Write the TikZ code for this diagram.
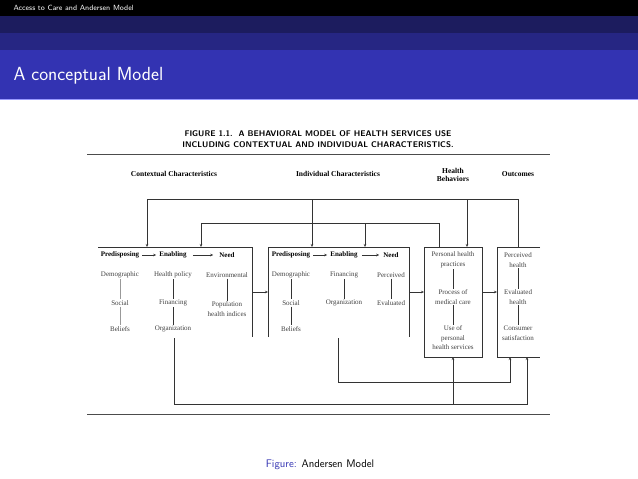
\documentclass[tikz,border=0pt]{standalone}
\usepackage{fontspec}
\setmainfont{Liberation Serif}
\usepackage{tikz}
\usetikzlibrary{arrows.meta,positioning,calc}
\definecolor{bmblack}{HTML}{000000}
\definecolor{bmdark}{HTML}{1C1C5E}
\definecolor{bmmid}{HTML}{262683}
\definecolor{bmtitle}{HTML}{3333B2}
\tikzset{
  >={Stealth[length=3pt,width=2.5pt]},
  cat/.style={font=\fontsize{7.5}{8.5}\selectfont\bfseries, align=center},
  hd/.style={font=\fontsize{7}{8}\selectfont\bfseries, inner sep=1pt},
  it/.style={font=\fontsize{7}{9.5}\selectfont, text=black!75, align=center, inner sep=1pt},
  box/.style={draw=black!80, line width=0.6pt},
  ln/.style={draw=black!80, line width=0.6pt},
  tr/.style={->, draw=black!80, line width=0.6pt},
  st/.style={tr, shorten <=2pt, shorten >=2pt}
}
\begin{document}
\begin{tikzpicture}[x=1pt,y=-1pt]
    \useasboundingbox (0,0) rectangle (638,479);
    % slide frame
    \fill[bmblack] (0,0) rectangle (638,16);
    \fill[bmdark] (0,16) rectangle (638,33);
    \fill[bmmid] (0,33) rectangle (638,50);
    \fill[bmtitle] (0,50) rectangle (638,99);
    \draw[blue!40, line width=0.6pt] (0,99) -- (638,99);
    \node[anchor=west, text=white, font=\sffamily\fontsize{7.5}{8}\selectfont] (hdr) at (10,8) {Access to Care and Andersen Model};
    \node[anchor=west, text=white, font=\sffamily\fontsize{19}{22}\selectfont] (ttl) at (10,76) {A conceptual Model};

    % figure title and rules
    \node[font=\sffamily\bfseries\fontsize{8.2}{11}\selectfont, align=center] (ftitle) at (318,139)
      {FIGURE 1.1.\ \ A BEHAVIORAL MODEL OF HEALTH SERVICES USE\\INCLUDING CONTEXTUAL AND INDIVIDUAL CHARACTERISTICS.};
    \draw[black!70, line width=0.6pt] (87,154) -- (550,154);
    \draw[black!70, line width=0.6pt] (87,414) -- (550,414);

    % column headings
    \node[cat] (ctx) at (174,174) {Contextual Characteristics};
    \node[cat] (ind) at (338,174) {Individual Characteristics};
    \node[cat] (beh) at (453,175) {Health\\Behaviors};
    \node[cat] (out) at (518,174) {Outcomes};

    % boxes
    \draw[box] (98,247) -- (252,247) -- (252,337);
    \draw[box] (268,337) -- (268,247) -- (409,247) -- (409,337);
    \draw[box] (424,247) rectangle (482,357);
    \draw[box] (540,247) -- (497,247) -- (497,357) -- (540,357);

    % contextual
    \node[hd] (cpre) at (120,255) {Predisposing};
    \node[hd] (cena) at (173,255) {Enabling};
    \node[hd] (cnee) at (227,255) {Need};
    \draw[st] (cpre) -- (cena);
    \draw[st, shorten <=5pt, shorten >=5pt] (cena) -- (cnee);
    \node[it] (cdem) at (120,275) {Demographic};
    \node[it] (csoc) at (120,303) {Social};
    \node[it] (cbel) at (120,329) {Beliefs};
    \node[it] (chp) at (173,275) {Health policy};
    \node[it] (cfin) at (173,303) {Financing};
    \node[it] (corg) at (173,329) {Organization};
    \node[it] (cenv) at (227,275) {Environmental};
    \node[it] (cpop) at (227,309) {Population\\health indices};
    \draw[ln, draw=black!40] (cdem) -- (csoc) (csoc) -- (cbel);
    \draw[ln] (chp) -- (cfin) (cfin) -- (corg) (cenv) -- (cpop);

    % individual
    \node[hd] (ipre) at (291,255) {Predisposing};
    \node[hd] (iena) at (344,255) {Enabling};
    \node[hd] (inee) at (391,255) {Need};
    \draw[st] (ipre) -- (iena);
    \draw[st, shorten <=3pt, shorten >=3pt] (iena) -- (inee);
    \node[it] (idem) at (291,275) {Demographic};
    \node[it] (isoc) at (291,303) {Social};
    \node[it] (ibel) at (291,329) {Beliefs};
    \node[it] (ifin) at (344,275) {Financing};
    \node[it] (iorg) at (344,303) {Organization};
    \node[it] (iper) at (391,275) {Perceived};
    \node[it] (ieva) at (391,303) {Evaluated};
    \draw[ln] (idem) -- (isoc) (isoc) -- (ibel) (ifin) -- (iorg) (iper) -- (ieva);

    % health behaviors
    \node[it] (bph) at (453,260) {Personal health\\practices};
    \node[it] (bpm) at (453,297) {Process of\\medical care};
    \node[it] (buse) at (453,338) {Use of\\personal\\health services};
    \draw[ln] (bph) -- (bpm) (bpm) -- (buse);

    % outcomes
    \node[it] (operc) at (518,260) {Perceived\\health};
    \node[it] (oeval) at (518,297) {Evaluated\\health};
    \node[it] (ocons) at (518,333) {Consumer\\satisfaction};
    \draw[ln] (operc) -- (oeval) (oeval) -- (ocons);

    % flow between boxes
    \coordinate (b1r) at (252,292);
    \coordinate (b2l) at (268,292);
    \coordinate (b2r) at (409,292);
    \coordinate (b3l) at (424,292);
    \coordinate (b3r) at (482,292);
    \coordinate (b4l) at (497,292);
    \draw[tr] (b1r) -- (b2l);
    \draw[tr] (b2r) -- (b3l);
    \draw[tr] (b3r) -- (b4l);

    % feedback from outcomes
    \coordinate (fo) at (518,247);
    \coordinate (fc) at (147,247);
    \coordinate (fi) at (312,247);
    \coordinate (fb) at (467,247);
    \draw[ln] (fo) -- (518,199) -- (147,199);
    \draw[tr] (147,199) -- (fc);
    \draw[tr] (312,199) -- (fi);
    \draw[tr] (467,199) -- (fb);

    % feedback from health behaviors
    \coordinate (hb) at (439,247);
    \coordinate (he) at (201,247);
    \coordinate (hi) at (365,247);
    \draw[tr] (hb) -- (439,223) -- (201,223) -- (he);
    \draw[tr] (365,223) -- (hi);

    % enabling to outcomes
    \coordinate (ie) at (338,338);
    \coordinate (oa) at (510,357);
    \draw[tr] (ie) -- (338,382) -- (510,382) -- (oa);
    \coordinate (ce) at (174,338);
    \coordinate (ob) at (527,357);
    \coordinate (bu) at (453,357);
    \draw[tr] (ce) -- (174,404) -- (527,404) -- (ob);
    \draw[tr] (453,404) -- (bu);

    % caption
    \node[font=\sffamily\fontsize{11}{13}\selectfont] (cap) at (320,465) {\textcolor{bmtitle}{Figure:} Andersen Model};
\end{tikzpicture}
\end{document}
